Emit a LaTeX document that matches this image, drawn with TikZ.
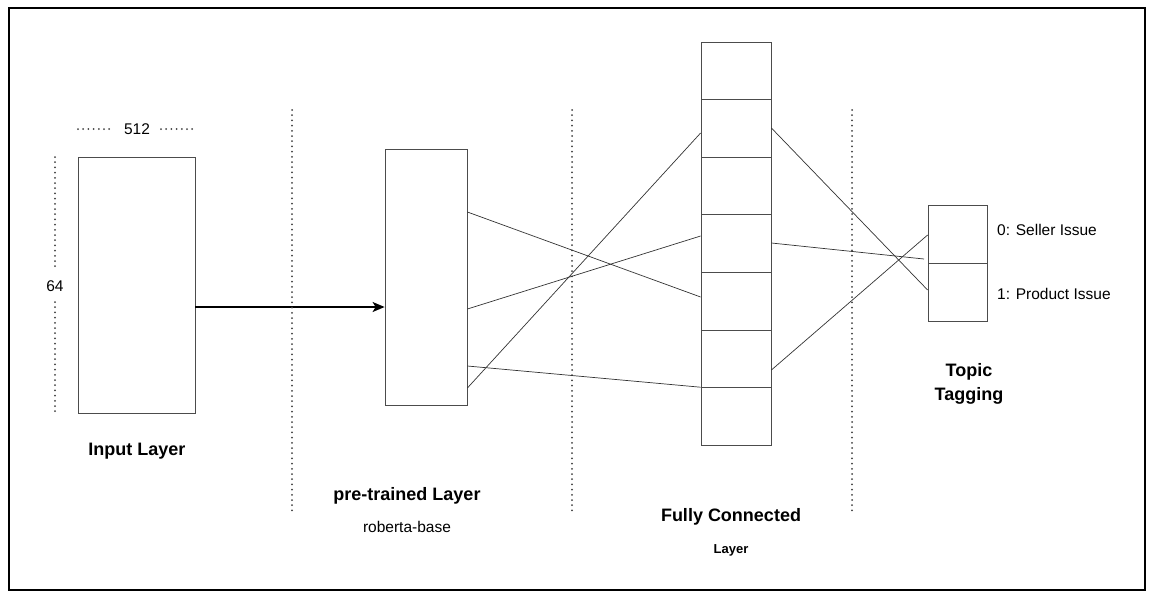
\documentclass[tikz,border=0pt]{standalone}
\usepackage{fontspec}
\setmainfont{Liberation Sans}
\usetikzlibrary{arrows.meta}
\begin{document}
\begin{tikzpicture}[x=1pt,y=-1pt,
  box/.style={draw=black!70,line width=0.8pt},
  dots/.style={line width=2pt,dash pattern=on 0pt off 5.2pt,line cap=round,black!75},
  conn/.style={black!80,line width=0.7pt},
  title/.style={font=\fontsize{18}{20}\selectfont\bfseries},
  lab/.style={font=\fontsize{15.5}{18}\selectfont}]
\useasboundingbox (0,0) rectangle (1154,600);
\draw[line width=1.6pt] (9,8) rectangle (1145,590);
% input layer
\node[box,minimum width=117pt,minimum height=256pt,inner sep=0pt] (in) at (136.5,285) {};
\draw[dots] (78,129) -- (114,129);
\draw[dots] (161,129) -- (195,129);
\node[lab,inner sep=1pt] (w) at (137,129) {512};
\draw[dots] (55,157) -- (55,270);
\draw[dots] (55,302) -- (55,413);
\node[lab] (h) at (55,286) {64};
\node[title] (inl) at (137,451) {Input Layer};
% pretrained
\node[box,minimum width=82pt,minimum height=256pt,inner sep=0pt] (pt) at (426,277) {};
\draw[-{Stealth[length=12pt,width=10pt,inset=3pt]},line width=1.6pt] (in.east|-0,307) -- (pt.west|-0,307);
\node[title] (ptl) at (407,496) {pre-trained Layer};
\node[lab] (ptl2) at (407,527) {roberta-base};
% dividers
\foreach \x in {292,572,852} \draw[dots] (\x,110) -- (\x,515);
% FC
\foreach \i in {0,...,6} {
  \node[box,minimum width=70pt,minimum height=57.6pt,inner sep=0pt] (fc\i) at (736,{42+28.8+57.6*\i}) {};
}
\node[title] (fcl) at (731,517) {Fully Connected};
\node[font=\fontsize{13}{15}\selectfont\bfseries] (fcl2) at (731,550) {Layer};
% output
\node[box,minimum width=59pt,minimum height=58pt,inner sep=0pt] (o0) at (957.5,234) {};
\node[box,minimum width=59pt,minimum height=58pt,inner sep=0pt] (o1) at (957.5,292) {};
\node[lab,anchor=west,inner sep=0pt] (ol0) at (997,230) {0: Seller Issue};
\node[lab,anchor=west,inner sep=0pt] (ol1) at (997,294) {1: Product Issue};
\node[title,align=center] (tt) at (969,384) {Topic\\[4pt]Tagging};
% connectors
\draw[conn] (pt.east|-0,212) -- (fc4.west|-0,297);
\draw[conn] (pt.east|-0,309) -- (fc3.west|-0,236);
\draw[conn] (pt.east|-0,366) -- (fc6.north west);
\draw[conn] (pt.east|-0,388) -- (fc1.west|-0,133);
\draw[conn] (fc1.east|-0,128) -- (o1.west|-0,290);
\draw[conn] (fc3.east|-0,243) -- (924,259);
\draw[conn] (fc5.east|-0,370) -- (o0.west|-0,235);
\end{tikzpicture}
\end{document}
